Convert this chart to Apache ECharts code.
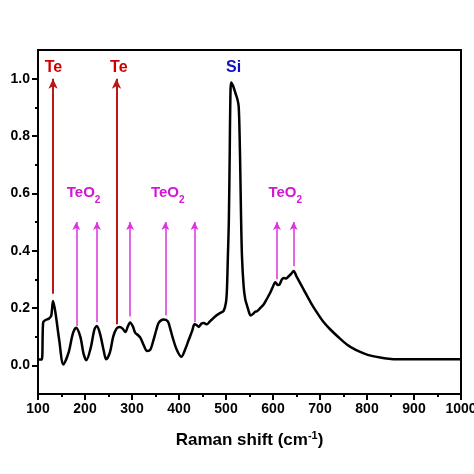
<!DOCTYPE html>
<html>
<head>
<meta charset="utf-8">
<script src="https://cdn.jsdelivr.net/npm/echarts@6/dist/echarts.min.js"></script>
<style>
  html, body { margin: 0; padding: 0; background: #fff; }
  #chart { width: 474px; height: 474px; }
</style>
</head>
<body>
<div id="chart"></div>
<script>
// spectrum
const shiftX = [102, 108, 111, 116, 123, 128, 132, 137, 145, 154, 165, 174, 181, 190, 197, 203, 212, 220, 225, 232,
  240, 245, 253, 260, 267, 274, 280, 286, 291, 296, 302, 307, 313, 318, 325, 332, 339, 346, 352, 357,
  367, 376, 381, 386, 395, 405, 413, 421, 428, 433, 438, 442, 448, 453, 459, 465, 470, 480, 488, 495,
  500, 502, 504, 506, 508, 509, 511, 515, 520, 524, 527, 529, 530.5, 532, 534, 537.5, 541, 545, 550, 552,
  558, 562, 566, 573, 580, 587, 594, 600, 605, 610, 614, 619, 623, 628, 633, 638, 644, 650, 665, 680,
  694, 708, 722, 740, 757, 775, 793, 810, 828, 846, 864, 900, 950, 1000];
const intensity = [0.02, 0.02, 0.15, 0.158, 0.163, 0.172, 0.224, 0.185, 0.09, 0.003, 0.044, 0.11, 0.131, 0.1, 0.04, 0.018, 0.06, 0.125, 0.137, 0.11,
  0.05, 0.021, 0.045, 0.1, 0.128, 0.134, 0.128, 0.116, 0.135, 0.149, 0.135, 0.113, 0.105, 0.096, 0.07, 0.05, 0.055, 0.09, 0.125, 0.149,
  0.16, 0.154, 0.13, 0.1, 0.055, 0.03, 0.055, 0.09, 0.12, 0.143, 0.14, 0.134, 0.146, 0.148, 0.143, 0.152, 0.16, 0.175, 0.183, 0.19,
  0.22, 0.265, 0.38, 0.5, 0.75, 0.9, 0.987, 0.975, 0.95, 0.93, 0.903, 0.8, 0.67, 0.52, 0.38, 0.276, 0.23, 0.207, 0.18, 0.174,
  0.18, 0.187, 0.189, 0.2, 0.212, 0.232, 0.253, 0.275, 0.29, 0.28, 0.282, 0.3, 0.305, 0.303, 0.31, 0.318, 0.329, 0.31, 0.265, 0.22,
  0.183, 0.15, 0.125, 0.097, 0.073, 0.055, 0.042, 0.033, 0.027, 0.023, 0.021, 0.021, 0.021, 0.021];

// arrows: position, start, end
const teArrowX = [132, 267];
const teArrowFrom = [0.25, 0.143];
const teArrowTo = [1.0, 1.0];
const teo2ArrowX = [181.5, 225.5, 296, 371, 433, 608.5, 644];
const teo2ArrowFrom = [0.137, 0.15, 0.17, 0.174, 0.15, 0.30, 0.346];
const teo2ArrowTo = [0.5, 0.5, 0.5, 0.5, 0.5, 0.5, 0.5];

// peak labels
const teLabelX = [133, 272];
const teLabelY = [1.04, 1.04];
const siLabelX = [516];
const siLabelY = [1.04];
const teo2LabelX = [197, 376, 626];
const teo2LabelY = [0.596, 0.596, 0.596];

const yTicks = [0, 0.2, 0.4, 0.6, 0.8, 1.0];
const yMinorTicks = [0.1, 0.3, 0.5, 0.7, 0.9];

const font = 'Arial, "Liberation Sans", sans-serif';

const zip = (xs, ys) => xs.map((x, i) => [x, ys[i]]);
const arrows = (xs, from, to) => xs.map((x, i) => [{ coord: [x, from[i]] }, { coord: [x, to[i]] }]);

const chart = echarts.init(document.getElementById('chart'), null, { renderer: 'canvas' });
chart.setOption({
  animation: false,
  backgroundColor: '#fff',
  grid: {
    left: 38, right: 13, top: 50, bottom: 80,
    outerBoundsMode: 'none',
    containLabel: false,
    show: true, borderColor: '#000', borderWidth: 2,
  },
  xAxis: {
    type: 'value',
    min: 100,
    max: 1000,
    interval: 100,
    name: '{a|Raman shift (cm}{s|-1}{a|)}',
    nameLocation: 'middle',
    nameGap: 36,
    nameTextStyle: {
      rich: {
        a: { fontFamily: font, fontWeight: 'bold', fontSize: 17, color: '#000' },
        s: { fontFamily: font, fontWeight: 'bold', fontSize: 11, color: '#000', padding: [0, 0, 10, 0] },
      },
    },
    axisLine: { onZero: false, lineStyle: { color: '#000', width: 2 } },
    axisTick: { inside: false, length: 6, lineStyle: { color: '#000', width: 2 } },
    minorTick: { show: true, splitNumber: 2, length: 3, lineStyle: { color: '#000', width: 2 } },
    splitLine: { show: false },
    axisLabel: {
      fontFamily: font, fontWeight: 'bold', fontSize: 14, color: '#000', margin: 8,
      formatter: (v) => String(v),
    },
  },
  yAxis: [
    {
      type: 'value',
      min: -0.1,
      max: 1.1,
      axisLine: { onZero: false, lineStyle: { color: '#000', width: 2 } },
      axisTick: { length: 6, customValues: yTicks, lineStyle: { color: '#000', width: 2 } },
      splitLine: { show: false },
      axisLabel: {
        customValues: yTicks,
        fontFamily: font, fontWeight: 'bold', fontSize: 14, color: '#000', margin: 8,
        formatter: (v) => v.toFixed(1),
      },
    },
    {
      type: 'value',
      min: -0.1,
      max: 1.1,
      position: 'left',
      axisLine: { show: false },
      axisTick: { length: 3, customValues: yMinorTicks, lineStyle: { color: '#000', width: 2 } },
      splitLine: { show: false },
      axisLabel: { show: false },
    },
  ],
  series: [
    {
      name: 'Spectrum',
      type: 'line',
      data: zip(shiftX, intensity),
      showSymbol: false,
      smooth: 0.3,
      lineStyle: { color: '#000', width: 2.5 },
      z: 5,
    },
    {
      name: 'Te arrows',
      type: 'line',
      data: [],
      markLine: {
        silent: true,
        symbol: ['none', 'arrow'],
        symbolSize: [7, 10],
        label: { show: false },
        lineStyle: { color: '#b81818', width: 2, type: 'solid', opacity: 1 },
        data: arrows(teArrowX, teArrowFrom, teArrowTo),
      },
    },
    {
      name: 'TeO2 arrows',
      type: 'line',
      data: [],
      markLine: {
        silent: true,
        symbol: ['none', 'arrow'],
        symbolSize: [6, 8],
        label: { show: false },
        lineStyle: { color: '#dd33dd', width: 1.5, type: 'solid', opacity: 1 },
        data: arrows(teo2ArrowX, teo2ArrowFrom, teo2ArrowTo),
      },
    },
    {
      name: 'Te',
      type: 'scatter',
      symbolSize: 0,
      itemStyle: { opacity: 1 },
      data: zip(teLabelX, teLabelY),
      label: {
        show: true, position: 'inside', formatter: 'Te',
        fontFamily: font, fontWeight: 'bold', fontSize: 16, color: '#d00000',
      },
    },
    {
      name: 'Si',
      type: 'scatter',
      symbolSize: 0,
      itemStyle: { opacity: 1 },
      data: zip(siLabelX, siLabelY),
      label: {
        show: true, position: 'inside', formatter: 'Si',
        fontFamily: font, fontWeight: 'bold', fontSize: 16, color: '#1010c0',
      },
    },
    {
      name: 'TeO2',
      type: 'scatter',
      symbolSize: 0,
      itemStyle: { opacity: 1 },
      data: zip(teo2LabelX, teo2LabelY),
      label: {
        show: true, position: 'inside',
        formatter: '{a|TeO}{b|2}',
        rich: {
          a: { fontFamily: font, fontWeight: 'bold', fontSize: 15, color: '#d414d4', padding: [0, 0, 4, 0] },
          b: { fontFamily: font, fontWeight: 'bold', fontSize: 10, color: '#d414d4', padding: [12, 0, 0, 0] },
        },
      },
    },
  ],
});
</script>
</body>
</html>
